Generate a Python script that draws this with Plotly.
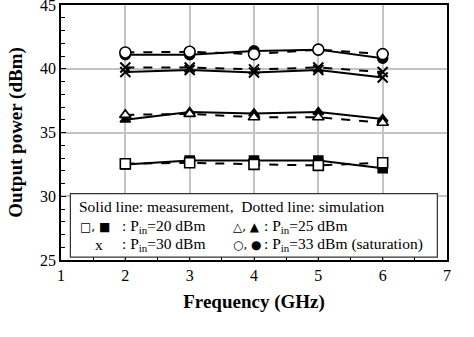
import plotly.graph_objects as go

freq = [2, 3, 4, 5, 6]

meas_20 = [32.5, 32.8, 32.8, 32.8, 32.2]
sim_20 = [32.55, 32.63, 32.5, 32.42, 32.63]
meas_25 = [36.0, 36.6, 36.5, 36.6, 36.05]
sim_25 = [36.38, 36.46, 36.2, 36.2, 35.76]
meas_30 = [39.74, 39.9, 39.7, 39.9, 39.32]
sim_30 = [40.1, 40.1, 39.95, 40.1, 39.74]
meas_33 = [41.1, 41.1, 41.4, 41.5, 40.83]
sim_33 = [41.28, 41.33, 41.15, 41.5, 41.15]

x_ticks = [1, 2, 3, 4, 5, 6, 7]
y_ticks = [25, 30, 35, 40, 45]

SERIF = "Liberation Serif"

fig = go.Figure()

def add(y, dash, symbol, size, fill, lw=1.6):
    fig.add_trace(go.Scatter(
        x=freq, y=y, mode="lines+markers",
        line=dict(color="black", width=2, dash=dash),
        marker=dict(symbol=symbol, size=size, color=fill,
                    line=dict(color="black", width=lw)),
        showlegend=False, cliponaxis=False))

add(meas_20, "solid", "square", 9, "black")
add(meas_25, "solid", "triangle-up", 9, "black")
add(meas_30, "solid", "x-thin", 10, "black", 2)
add(meas_33, "solid", "circle", 10, "black")
add(sim_20, "dash", "square", 10, "white")
add(sim_25, "dash", "triangle-up", 10, "white")
add(sim_30, "dash", "x-thin", 10, "black", 2)
add(sim_33, "dash", "circle", 11, "white")

fig.add_shape(type="rect", xref="x", yref="y", x0=1.146, x1=6.85, y0=25.23, y1=30.21,
              fillcolor="white", line=dict(color="#333", width=1.2), layer="above")

FS = 15.5
legend_items = [
    (1.25, 29.22, "Solid line: measurement,  Dotted line: simulation", SERIF),
    (1.259, 27.62, "□, ■", "DejaVu Sans"),
    (1.911, 27.62, ": P<sub>in</sub>=20 dBm", SERIF),
    (3.646, 27.62, "△, ▲", "DejaVu Sans"),
    (4.117, 27.62, ": P<sub>in</sub>=25 dBm", SERIF),
    (1.492, 26.18, "x", SERIF),
    (1.911, 26.18, ": P<sub>in</sub>=30 dBm", SERIF),
    (3.646, 26.18, "○, ●", "DejaVu Sans"),
    (4.117, 26.18, ": P<sub>in</sub>=33 dBm (saturation)", SERIF),
]
for x, y, t, fam in legend_items:
    fig.add_annotation(x=x, y=y, xref="x", yref="y", text=t, showarrow=False,
                       xanchor="left", yanchor="middle",
                       font=dict(family=fam, size=FS if fam == SERIF else 12, color="black"))

fig.update_xaxes(range=[1, 7], tickvals=x_ticks, showgrid=True, gridcolor="#c4c4c4", gridwidth=1.5,
                 showline=True, linecolor="black", linewidth=1.5, mirror=True, automargin=False,
                 ticks="inside", ticklen=5, tickcolor="black", ticklabeloverflow="allow",
                 minor=dict(dtick=0.5, ticks="inside", ticklen=4, tickcolor="black", showgrid=False),
                 tickfont=dict(family=SERIF, size=16, color="black"), zeroline=False,
                 title=dict(text="<b>Frequency (GHz)</b>", font=dict(family=SERIF, size=19, color="black"),
                            standoff=12))
fig.update_yaxes(range=[25, 45], tickvals=y_ticks, showgrid=True, gridcolor="#c4c4c4", gridwidth=1.5,
                 showline=True, linecolor="black", linewidth=1.5, mirror=True, automargin=False,
                 ticks="inside", ticklen=5, tickcolor="black", ticklabeloverflow="allow",
                 minor=dict(dtick=1, ticks="inside", ticklen=4, tickcolor="black", showgrid=False),
                 tickfont=dict(family=SERIF, size=16, color="black"), zeroline=False,
                 title=dict(text="<b>Output power (dBm)</b>", font=dict(family=SERIF, size=19, color="black"),
                            standoff=12))

fig.update_layout(width=474, height=337, margin=dict(l=61, r=27, t=5, b=77),
                  plot_bgcolor="white", paper_bgcolor="white",
                  font=dict(family=SERIF))

fig.write_html("out.html")
